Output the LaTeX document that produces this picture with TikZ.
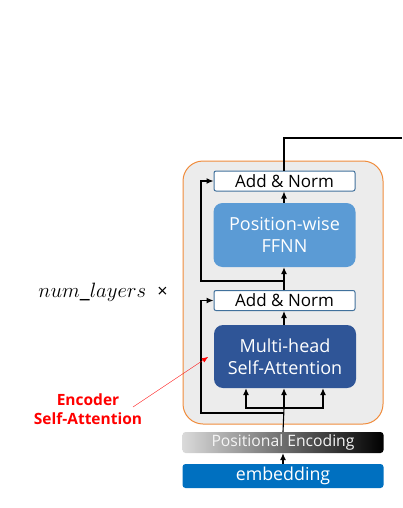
\documentclass[tikz,border=0pt]{standalone}
\usepackage{xcolor}
\usepackage{amsmath}
\usepackage{fontspec}
\setmainfont{Open Sans}
\usepackage{tikz}
\usetikzlibrary{arrows.meta}

\definecolor{stackgray}{RGB}{236,236,236}
\definecolor{stackorange}{RGB}{240,140,60}
\definecolor{normedge}{RGB}{65,113,156}
\definecolor{ffnnblue}{RGB}{91,155,213}
\definecolor{mhablue}{RGB}{47,85,151}
\definecolor{embblue}{RGB}{0,112,192}
\definecolor{pelight}{RGB}{218,218,218}

\begin{document}
\begin{tikzpicture}[x=1pt,y=-1pt,>={Latex[length=7pt,width=6pt]},
		norm/.style={draw=normedge,fill=white,rounded corners=2pt,line width=1pt,
			minimum width=141pt,minimum height=20pt,inner sep=0pt,font=\fontsize{17}{17}\selectfont},
		block/.style={rounded corners=9pt,text=white,align=center,minimum width=142pt,
			inner sep=0pt,font=\fontsize{18}{22}\selectfont},
		wide/.style={rounded corners=3pt,minimum width=201pt,inner sep=0pt},
		link/.style={line width=1.1pt}]
	\useasboundingbox (0,0) rectangle (402,508);
	% encoder layer
	\draw[stackorange,fill=stackgray,rounded corners=20pt,line width=1pt] (183,161) rectangle (383,424);
	\node[norm] (an2) at (284.5,181) {Add \& Norm};
	\node[block,fill=ffnnblue,minimum height=64pt] (ffnn) at (284.5,235) {Position-wise\\FFNN};
	\node[norm] (an1) at (284.5,300.5) {Add \& Norm};
	\node[block,fill=mhablue,minimum height=63pt] (mha) at (285,356.5) {Multi-head\\Self-Attention};
	% inputs
	\node[wide,left color=pelight,right color=black,minimum height=21pt,
		text={rgb,255:red,245;green,245;blue,245},font=\fontsize{15.7}{16}\selectfont] (pe) at (283,442.5) {Positional Encoding};
	\node[wide,fill=embblue,text=white,minimum height=24pt,font=\fontsize{17.8}{18}\selectfont] (emb) at (283,476) {embedding};
	% labels
	\node (reps) at (103,292) {\fontsize{22}{22}\selectfont$num\_layers$\hspace{11pt}{\fontsize{18}{18}\selectfont ×}};
	\node[red,font=\fontsize{15.5}{19}\selectfont\bfseries,align=center] (esa) at (88,409) {Encoder\\Self-Attention};
	\coordinate (fork1) at (284,413);
	\coordinate (split) at (284,408);
	\coordinate (res1) at (201,413);
	\coordinate (fork2) at (284,281);
	\coordinate (res2) at (201,281);
	\coordinate (out) at (402,138);
	\coordinate (esafrom) at (133,407);
	\coordinate (esato) at (208,357);
	% connectors
	\draw[link,->] (emb.north) -- (pe.south);
	\draw[link] (pe.north) -- (split);
	\draw[link,->] (split) -| ([xshift=-39pt]mha.south);
	\draw[link,->] (split) -- (mha.south -| split);
	\draw[link,->] (split) -| ([xshift=38pt]mha.south);
	\draw[link,->] (fork1) -- (res1) |- (an1.west);
	\draw[link,->] (mha.north -| split) -- (an1.south -| split);
	\draw[link,->] (an1.north -| split) -- (ffnn.south -| split);
	\draw[link,->] (fork2) -- (res2) |- (an2.west);
	\draw[link,->] (ffnn.north -| split) -- (an2.south -| split);
	\draw[link] (an2.north -| split) |- (out);
	\draw[red,->,>={Latex[length=6pt,width=5pt]}] (esafrom) -- (esato);
\end{tikzpicture}
\end{document}
